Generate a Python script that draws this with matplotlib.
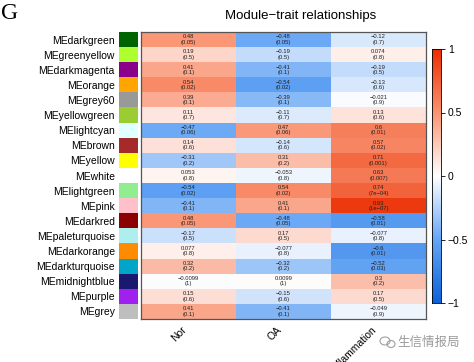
import numpy as np
import matplotlib.pyplot as plt
from matplotlib.colors import LinearSegmentedColormap, to_rgb
from matplotlib.patches import Ellipse

plt.rcParams['font.family'] = ['Liberation Sans', 'DejaVu Sans']

modules = ["MEdarkgreen", "MEgreenyellow", "MEdarkmagenta", "MEorange", "MEgrey60",
           "MEyellowgreen", "MElightcyan", "MEbrown", "MEyellow", "MEwhite",
           "MElightgreen", "MEpink", "MEdarkred", "MEpaleturquoise", "MEdarkorange",
           "MEdarkturquoise", "MEmidnightblue", "MEpurple", "MEgrey"]
module_colors = ["#006400", "#ADFF2F", "#8B008B", "#FFA500", "#999999",
                 "#9ACD32", "#E0FFFF", "#A52A2A", "#FFFF00", "#FFFFFF",
                 "#90EE90", "#FFC0CB", "#8B0000", "#AFEEEE", "#FF8C00",
                 "#00A5C8", "#191970", "#A020F0", "#BEBEBE"]
traits = ["Nor", "OA", "inflammation"]

cor_nor = [0.48, 0.19, 0.41, 0.54, 0.39, 0.11, -0.47, 0.14, -0.31, 0.053,
           -0.54, -0.41, 0.48, -0.17, 0.077, 0.32, -0.0099, 0.15, 0.41]
cor_oa = [-0.48, -0.19, -0.41, -0.54, -0.39, -0.11, 0.47, -0.14, 0.31, -0.053,
          0.54, 0.41, -0.48, 0.17, -0.077, -0.32, 0.0099, -0.15, -0.41]
cor_inf = [-0.12, 0.074, -0.19, -0.13, -0.021, 0.13, 0.6, 0.57, 0.71, 0.63,
           0.74, 0.93, -0.58, -0.077, -0.6, -0.52, 0.3, 0.17, -0.049]

p_nor = ["0.05", "0.5", "0.1", "0.02", "0.1", "0.7", "0.06", "0.6", "0.2", "0.8",
         "0.02", "0.1", "0.05", "0.5", "0.8", "0.2", "1", "0.6", "0.1"]
p_oa = list(p_nor)
p_inf = ["0.7", "0.8", "0.5", "0.6", "0.9", "0.6", "0.01", "0.02", "0.001", "0.007",
         "7e-04", "1e-07", "0.01", "0.8", "0.01", "0.03", "0.2", "0.5", "0.9"]

cor = np.array([cor_nor, cor_oa, cor_inf]).T
pvals = np.array([p_nor, p_oa, p_inf]).T

cmap = LinearSegmentedColormap.from_list("bwr_wgcna", [
    (0.0, (0.05, 0.38, 0.85)),
    (0.25, (0.40, 0.65, 0.96)),
    (0.5, (1.0, 1.0, 1.0)),
    (0.75, (0.98, 0.58, 0.45)),
    (1.0, (0.92, 0.18, 0.0)),
])

W, H = 474, 362
fig = plt.figure(figsize=(W / 100, H / 100), dpi=100)


def px_axes(x0, y0, x1, y1):
    return fig.add_axes([x0 / W, 1 - y1 / H, (x1 - x0) / W, (y1 - y0) / H])


n = len(modules)

# heatmap
ax = px_axes(141, 32, 426, 319)
ax.imshow(cor, cmap=cmap, vmin=-1, vmax=1, aspect='auto', interpolation='nearest')
for i in range(n):
    for j in range(3):
        txt = f"{cor[i, j]:g}".replace("-", "\u2212") + "\n(" + pvals[i, j].replace("-", "\u2212") + ")"
        ax.text(j, i, txt, ha='center', va='center', fontsize=4.2, color='#222222',
                linespacing=1.1)
ax.set_yticks([])
ax.set_xticks(range(3))
ax.set_xticklabels(traits, rotation=45, ha='right', va='top', fontsize=7.5)
ax.tick_params(axis='x', length=0, pad=4)
for s in ax.spines.values():
    s.set_color('#555555')
    s.set_linewidth(0.9)
ax.set_title("Module\u2212trait relationships", fontsize=9.5, pad=9, x=0.56)

# module colour squares
axc = px_axes(119, 32, 138, 319)
rgb = np.array([to_rgb(c) for c in module_colors]).reshape(n, 1, 3)
axc.imshow(rgb, aspect='auto', interpolation='nearest')
axc.set_xticks([])
axc.set_yticks(range(n))
axc.set_yticklabels(modules, fontsize=7.5)
axc.tick_params(axis='y', length=0, pad=3)
for s in axc.spines.values():
    s.set_visible(False)

# colorbar
axb = px_axes(432, 49, 441, 303)
grad = np.linspace(1, -1, 256).reshape(-1, 1)
axb.imshow(grad, cmap=cmap, vmin=-1, vmax=1, aspect='auto',
           extent=[0, 1, -1, 1])
axb.set_xticks([])
axb.yaxis.tick_right()
axb.set_yticks([-1, -0.5, 0, 0.5, 1])
axb.set_yticklabels(["\u22121", "\u22120.5", "0", "0.5", "1"], fontsize=7.5)
axb.tick_params(axis='y', length=3, width=0.6, pad=2)
for s in axb.spines.values():
    s.set_linewidth(0.6)

# panel letter
fig.text(1 / W, 1 - 3 / H, "G", fontsize=17, family='Liberation Serif', va='top', ha='left')

# watermark
fig.text(397 / W, 1 - 342 / H, "生信情报局", fontsize=9, color='#9a9a9a',
         family=['Noto Sans CJK SC', 'DejaVu Sans'], va='center', ha='left')
fig.patches.append(Ellipse((385 / W, 1 - 341 / H), 10 / W, 8 / H, fill=False,
                           edgecolor='#a0a0a0', lw=0.8, transform=fig.transFigure))
fig.patches.append(Ellipse((391 / W, 1 - 344 / H), 8 / W, 7 / H, fill=False,
                           edgecolor='#a0a0a0', lw=0.8, transform=fig.transFigure))

fig.savefig("out.png", dpi=100)
